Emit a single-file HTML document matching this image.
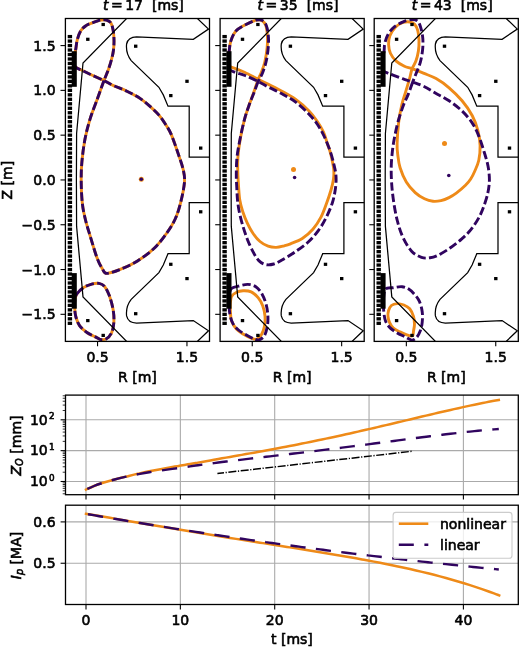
<!DOCTYPE html>
<html><head><meta charset="utf-8"><title>plot</title>
<style>html,body{margin:0;padding:0;background:#fff;overflow:hidden;width:520px;height:647px;}svg{display:block;}</style>
</head><body>
<svg width="520" height="647" viewBox="0 0 520 647" font-family="'DejaVu Sans', 'Liberation Sans', sans-serif">
<style>text{stroke:#000;stroke-width:0.6px;fill:#000;}</style>
<rect width="520" height="647" fill="#fff"/>
<defs>
<clipPath id="c0"><rect x="65.4" y="18.5" width="144.1" height="322.9"/></clipPath>
<clipPath id="c1"><rect x="220.1" y="18.5" width="144.1" height="322.9"/></clipPath>
<clipPath id="c2"><rect x="374.2" y="18.5" width="144.1" height="322.9"/></clipPath>
<clipPath id="cm"><rect x="65.5" y="395.1" width="452.8" height="99.6"/></clipPath>
<clipPath id="cb"><rect x="65.5" y="505.2" width="452.8" height="99.3"/></clipPath>
</defs>
<g clip-path="url(#c0)">
<path d="M104,80.6C102.18,85.43 99.87,91.97 97.5,98.5C95.13,105.03 91.9,112.95 89.8,119.8C87.7,126.65 86.22,132.6 84.9,139.6C83.58,146.6 82.52,154.8 81.9,161.8C81.28,168.8 81.12,174.58 81.2,181.6C81.28,188.62 81.68,197.5 82.4,203.9C83.12,210.3 84.22,214.68 85.5,220C86.78,225.32 88.17,229.45 90.1,235.8C92.03,242.15 95.02,252.53 97.1,258.1C99.18,263.67 100.98,266.65 102.6,269.2C104.22,271.75 103.77,273.4 106.8,273.4C109.83,273.4 115.68,271.28 120.8,269.2C125.92,267.12 131.93,264.38 137.5,260.9C143.07,257.42 149.32,252.95 154.2,248.3C159.08,243.65 163.3,237.88 166.8,233C170.3,228.12 172.88,224.12 175.2,219C177.52,213.88 179.17,208.33 180.7,202.3C182.23,196.27 183.93,188.05 184.4,182.8C184.87,177.55 184.48,175.5 183.5,170.8C182.52,166.1 180.57,160.72 178.5,154.6C176.43,148.48 173.35,139.28 171.1,134.1C168.85,128.92 166.98,126.62 165,123.5C163.02,120.38 161.52,118.1 159.2,115.4C156.88,112.7 154.23,110.1 151.1,107.3C147.97,104.5 144.43,101.28 140.4,98.6C136.37,95.92 131.38,93.37 126.9,91.2C122.42,89.03 117.32,87.37 113.5,85.6C109.68,83.83 107.92,82.5 104,80.6C100.08,78.7 93.83,76 90,74.2C86.17,72.4 83.5,71.08 81,69.8C78.5,68.52 76.13,68.47 75,66.5C73.87,64.53 74.07,60.92 74.2,58C74.33,55.08 75.28,52.07 75.8,49C76.32,45.93 76.45,42.68 77.3,39.6C78.15,36.52 79.45,32.83 80.9,30.5C82.35,28.17 84.32,26.8 86,25.6C87.68,24.4 89.17,24.05 91,23.3C92.83,22.55 95.25,21.65 97,21.1C98.75,20.55 99.92,20.17 101.5,20C103.08,19.83 104.95,19.63 106.5,20.1C108.05,20.57 109.7,21.15 110.8,22.8C111.9,24.45 112.57,27.2 113.1,30C113.63,32.8 113.93,36.27 114,39.6C114.07,42.93 113.92,46.68 113.5,50C113.08,53.32 112.35,56.25 111.5,59.5C110.65,62.75 109.65,65.98 108.4,69.5C107.15,73.02 105.82,75.77 104,80.6Z" fill="none" stroke="#ee8a18" stroke-width="2.9" stroke-linejoin="round"/>
<path d="M77.2,293.5C78.62,291.6 81.2,289.13 83.5,287.6C85.8,286.07 88.43,285 91,284.3C93.57,283.6 96.67,283.07 98.9,283.4C101.13,283.73 102.68,284.33 104.4,286.3C106.12,288.27 107.75,291.35 109.2,295.2C110.65,299.05 112.32,304.93 113.1,309.4C113.88,313.87 114.17,318.05 113.9,322C113.63,325.95 112.82,330.27 111.5,333.1C110.18,335.93 107.92,337.97 106,339C104.08,340.03 101.85,339.7 100,339.3C98.15,338.9 97.02,337.68 94.9,336.6C92.78,335.52 89.83,334.6 87.3,332.8C84.77,331 81.6,328.43 79.7,325.8C77.8,323.17 76.73,319.95 75.9,317C75.07,314.05 74.85,311.1 74.7,308.1C74.55,305.1 74.58,301.43 75,299C75.42,296.57 75.78,295.4 77.2,293.5Z" fill="none" stroke="#ee8a18" stroke-width="2.9" stroke-linejoin="round"/>
<path d="M104,80.6C102.18,85.43 99.87,91.97 97.5,98.5C95.13,105.03 91.9,112.95 89.8,119.8C87.7,126.65 86.22,132.6 84.9,139.6C83.58,146.6 82.52,154.8 81.9,161.8C81.28,168.8 81.12,174.58 81.2,181.6C81.28,188.62 81.68,197.5 82.4,203.9C83.12,210.3 84.22,214.68 85.5,220C86.78,225.32 88.17,229.45 90.1,235.8C92.03,242.15 95.02,252.53 97.1,258.1C99.18,263.67 100.98,266.65 102.6,269.2C104.22,271.75 103.77,273.4 106.8,273.4C109.83,273.4 115.68,271.28 120.8,269.2C125.92,267.12 131.93,264.38 137.5,260.9C143.07,257.42 149.32,252.95 154.2,248.3C159.08,243.65 163.3,237.88 166.8,233C170.3,228.12 172.88,224.12 175.2,219C177.52,213.88 179.17,208.33 180.7,202.3C182.23,196.27 183.93,188.05 184.4,182.8C184.87,177.55 184.48,175.5 183.5,170.8C182.52,166.1 180.57,160.72 178.5,154.6C176.43,148.48 173.35,139.28 171.1,134.1C168.85,128.92 166.98,126.62 165,123.5C163.02,120.38 161.52,118.1 159.2,115.4C156.88,112.7 154.23,110.1 151.1,107.3C147.97,104.5 144.43,101.28 140.4,98.6C136.37,95.92 131.38,93.37 126.9,91.2C122.42,89.03 117.32,87.37 113.5,85.6C109.68,83.83 107.92,82.5 104,80.6C100.08,78.7 93.83,76 90,74.2C86.17,72.4 83.5,71.08 81,69.8C78.5,68.52 76.13,68.47 75,66.5C73.87,64.53 74.07,60.92 74.2,58C74.33,55.08 75.28,52.07 75.8,49C76.32,45.93 76.45,42.68 77.3,39.6C78.15,36.52 79.45,32.83 80.9,30.5C82.35,28.17 84.32,26.8 86,25.6C87.68,24.4 89.17,24.05 91,23.3C92.83,22.55 95.25,21.65 97,21.1C98.75,20.55 99.92,20.17 101.5,20C103.08,19.83 104.95,19.63 106.5,20.1C108.05,20.57 109.7,21.15 110.8,22.8C111.9,24.45 112.57,27.2 113.1,30C113.63,32.8 113.93,36.27 114,39.6C114.07,42.93 113.92,46.68 113.5,50C113.08,53.32 112.35,56.25 111.5,59.5C110.65,62.75 109.65,65.98 108.4,69.5C107.15,73.02 105.82,75.77 104,80.6Z" fill="none" stroke="#30045f" stroke-width="2.9" stroke-dasharray="8.3 3.2"/>
<path d="M77.2,293.5C78.62,291.6 81.2,289.13 83.5,287.6C85.8,286.07 88.43,285 91,284.3C93.57,283.6 96.67,283.07 98.9,283.4C101.13,283.73 102.68,284.33 104.4,286.3C106.12,288.27 107.75,291.35 109.2,295.2C110.65,299.05 112.32,304.93 113.1,309.4C113.88,313.87 114.17,318.05 113.9,322C113.63,325.95 112.82,330.27 111.5,333.1C110.18,335.93 107.92,337.97 106,339C104.08,340.03 101.85,339.7 100,339.3C98.15,338.9 97.02,337.68 94.9,336.6C92.78,335.52 89.83,334.6 87.3,332.8C84.77,331 81.6,328.43 79.7,325.8C77.8,323.17 76.73,319.95 75.9,317C75.07,314.05 74.85,311.1 74.7,308.1C74.55,305.1 74.58,301.43 75,299C75.42,296.57 75.78,295.4 77.2,293.5Z" fill="none" stroke="#30045f" stroke-width="2.9" stroke-dasharray="8.3 3.2"/>
<circle cx="141.3" cy="179.2" r="2.5" fill="#ee8a18"/>
<circle cx="141.3" cy="179.2" r="1.8" fill="#30045f"/>
<g transform="translate(0,0)">
<path d="M131.5,13.5 L83,63 L76.6,133.5 L76.4,179.95 L76.6,226.4 L83,296.9 L131.5,346.4" fill="none" stroke="#000" stroke-width="1.25" stroke-linejoin="miter"/>
<path d="M195.4,16.6 L208.5,29.1 L193.3,39.3 L136.5,36.9 Q128.2,36.9 126.6,44.0 Q125.6,53.5 131.2,60.6 L158.9,87.3 L163.3,94.9 L168,106.2 L189.2,106.2 L189.2,157.2 L214,157.2 M214,202.7 L189.2,202.7 L189.2,253.7 L168,253.7 L163.3,265 L158.9,272.6 L131.2,299.3 Q125.6,306.4 126.6,315.9 Q128.2,323 136.5,323 L193.3,320.6 L208.5,330.8 L195.4,343.3" fill="none" stroke="#000" stroke-width="1.25"/>
<g fill="#000"><rect x="67.7" y="34.94" width="4.4" height="3.3"/><rect x="67.7" y="39.42" width="4.4" height="3.3"/><rect x="67.7" y="43.9" width="4.4" height="3.3"/><rect x="67.7" y="48.38" width="4.4" height="3.3"/><rect x="67.7" y="52.86" width="4.4" height="3.3"/><rect x="67.7" y="57.34" width="4.4" height="3.3"/><rect x="67.7" y="61.82" width="4.4" height="3.3"/><rect x="67.7" y="66.3" width="4.4" height="3.3"/><rect x="67.7" y="70.78" width="4.4" height="3.3"/><rect x="67.7" y="75.26" width="4.4" height="3.3"/><rect x="67.7" y="79.74" width="4.4" height="3.3"/><rect x="67.7" y="84.22" width="4.4" height="3.3"/><rect x="67.7" y="88.7" width="4.4" height="3.3"/><rect x="67.7" y="93.18" width="4.4" height="3.3"/><rect x="67.7" y="97.66" width="4.4" height="3.3"/><rect x="67.7" y="102.14" width="4.4" height="3.3"/><rect x="67.7" y="106.62" width="4.4" height="3.3"/><rect x="67.7" y="111.1" width="4.4" height="3.3"/><rect x="67.7" y="115.58" width="4.4" height="3.3"/><rect x="67.7" y="120.06" width="4.4" height="3.3"/><rect x="67.7" y="124.54" width="4.4" height="3.3"/><rect x="67.7" y="129.02" width="4.4" height="3.3"/><rect x="67.7" y="133.5" width="4.4" height="3.3"/><rect x="67.7" y="137.98" width="4.4" height="3.3"/><rect x="67.7" y="142.46" width="4.4" height="3.3"/><rect x="67.7" y="146.94" width="4.4" height="3.3"/><rect x="67.7" y="151.42" width="4.4" height="3.3"/><rect x="67.7" y="155.9" width="4.4" height="3.3"/><rect x="67.7" y="160.38" width="4.4" height="3.3"/><rect x="67.7" y="164.86" width="4.4" height="3.3"/><rect x="67.7" y="169.34" width="4.4" height="3.3"/><rect x="67.7" y="173.82" width="4.4" height="3.3"/><rect x="67.7" y="178.3" width="4.4" height="3.3"/><rect x="67.7" y="182.78" width="4.4" height="3.3"/><rect x="67.7" y="187.26" width="4.4" height="3.3"/><rect x="67.7" y="191.74" width="4.4" height="3.3"/><rect x="67.7" y="196.22" width="4.4" height="3.3"/><rect x="67.7" y="200.7" width="4.4" height="3.3"/><rect x="67.7" y="205.18" width="4.4" height="3.3"/><rect x="67.7" y="209.66" width="4.4" height="3.3"/><rect x="67.7" y="214.14" width="4.4" height="3.3"/><rect x="67.7" y="218.62" width="4.4" height="3.3"/><rect x="67.7" y="223.1" width="4.4" height="3.3"/><rect x="67.7" y="227.58" width="4.4" height="3.3"/><rect x="67.7" y="232.06" width="4.4" height="3.3"/><rect x="67.7" y="236.54" width="4.4" height="3.3"/><rect x="67.7" y="241.02" width="4.4" height="3.3"/><rect x="67.7" y="245.5" width="4.4" height="3.3"/><rect x="67.7" y="249.98" width="4.4" height="3.3"/><rect x="67.7" y="254.46" width="4.4" height="3.3"/><rect x="67.7" y="258.94" width="4.4" height="3.3"/><rect x="67.7" y="263.42" width="4.4" height="3.3"/><rect x="67.7" y="267.9" width="4.4" height="3.3"/><rect x="67.7" y="272.38" width="4.4" height="3.3"/><rect x="67.7" y="276.86" width="4.4" height="3.3"/><rect x="67.7" y="281.34" width="4.4" height="3.3"/><rect x="67.7" y="285.82" width="4.4" height="3.3"/><rect x="67.7" y="290.3" width="4.4" height="3.3"/><rect x="67.7" y="294.78" width="4.4" height="3.3"/><rect x="67.7" y="299.26" width="4.4" height="3.3"/><rect x="67.7" y="303.74" width="4.4" height="3.3"/><rect x="67.7" y="308.22" width="4.4" height="3.3"/><rect x="67.7" y="312.7" width="4.4" height="3.3"/><rect x="67.7" y="317.18" width="4.4" height="3.3"/><rect x="67.7" y="321.66" width="4.4" height="3.3"/></g>
<rect x="71.7" y="51.2" width="5.1" height="35.6" fill="#000"/>
<rect x="71.7" y="273.1" width="5.1" height="35.6" fill="#000"/>
<g fill="#000"><rect x="101.5" y="22.9" width="3.4" height="3.2"/><rect x="86.1" y="37.7" width="3.4" height="3.2"/><rect x="134" y="44.6" width="3.4" height="3.2"/><rect x="185.3" y="79.7" width="3.4" height="3.2"/><rect x="169.1" y="94" width="3.4" height="3.2"/><rect x="199" y="146.5" width="3.4" height="3.2"/><rect x="101.5" y="333.8" width="3.4" height="3.2"/><rect x="86.1" y="319" width="3.4" height="3.2"/><rect x="134" y="312.1" width="3.4" height="3.2"/><rect x="185.3" y="277" width="3.4" height="3.2"/><rect x="169.1" y="262.7" width="3.4" height="3.2"/><rect x="199" y="210.2" width="3.4" height="3.2"/></g>
</g>
</g>
<rect x="65.4" y="18.5" width="144.1" height="322.9" fill="none" stroke="#000" stroke-width="1.3"/>
<line x1="97.55" y1="341.4" x2="97.55" y2="346.3" stroke="#000" stroke-width="1.1"/>
<text x="97.55" y="362" text-anchor="middle" font-size="14">0.5</text>
<line x1="186.95" y1="341.4" x2="186.95" y2="346.3" stroke="#000" stroke-width="1.1"/>
<text x="186.95" y="362" text-anchor="middle" font-size="14">1.5</text>
<text x="137.45" y="381.8" text-anchor="middle" font-size="14">R [m]</text>
<line x1="60.5" y1="314.32" x2="65.4" y2="314.32" stroke="#000" stroke-width="1.1"/>
<text x="55.6" y="319.42" text-anchor="end" font-size="14">−1.5</text>
<line x1="60.5" y1="269.53" x2="65.4" y2="269.53" stroke="#000" stroke-width="1.1"/>
<text x="55.6" y="274.63" text-anchor="end" font-size="14">−1.0</text>
<line x1="60.5" y1="224.74" x2="65.4" y2="224.74" stroke="#000" stroke-width="1.1"/>
<text x="55.6" y="229.84" text-anchor="end" font-size="14">−0.5</text>
<line x1="60.5" y1="179.95" x2="65.4" y2="179.95" stroke="#000" stroke-width="1.1"/>
<text x="55.6" y="185.05" text-anchor="end" font-size="14">0.0</text>
<line x1="60.5" y1="135.16" x2="65.4" y2="135.16" stroke="#000" stroke-width="1.1"/>
<text x="55.6" y="140.26" text-anchor="end" font-size="14">0.5</text>
<line x1="60.5" y1="90.37" x2="65.4" y2="90.37" stroke="#000" stroke-width="1.1"/>
<text x="55.6" y="95.47" text-anchor="end" font-size="14">1.0</text>
<line x1="60.5" y1="45.58" x2="65.4" y2="45.58" stroke="#000" stroke-width="1.1"/>
<text x="55.6" y="50.68" text-anchor="end" font-size="14">1.5</text>
<g clip-path="url(#c1)">
<path d="M258.2,79.3C256.93,82.63 255.35,87.88 253.9,92C252.45,96.12 251.03,99.57 249.5,104C247.97,108.43 246.23,112.82 244.7,118.6C243.17,124.38 241.43,132.25 240.3,138.7C239.17,145.15 238.32,151.75 237.9,157.3C237.48,162.85 237.68,167.05 237.8,172C237.92,176.95 238.27,182.33 238.6,187C238.93,191.67 239.12,195.92 239.8,200C240.48,204.08 241.45,207.65 242.7,211.5C243.95,215.35 245.57,219.43 247.3,223.1C249.03,226.77 250.98,230.43 253.1,233.5C255.22,236.57 257.5,239.38 260,241.5C262.5,243.62 265.4,245.22 268.1,246.2C270.8,247.18 273.52,247.47 276.2,247.4C278.88,247.33 281.82,246.4 284.2,245.8C286.58,245.2 287.48,245.02 290.5,243.8C293.52,242.58 298.53,240.97 302.3,238.5C306.07,236.03 309.97,232.6 313.1,229C316.23,225.4 318.87,221.15 321.1,216.9C323.33,212.65 324.85,207.98 326.5,203.5C328.15,199.02 329.83,194.08 331,190C332.17,185.92 333.03,182.33 333.5,179C333.97,175.67 333.97,172.83 333.8,170C333.63,167.17 333.05,164.83 332.5,162C331.95,159.17 331.33,156 330.5,153C329.67,150 328.67,147.5 327.5,144C326.33,140.5 325.25,135.83 323.5,132C321.75,128.17 319.45,124.55 317,121C314.55,117.45 312.4,114.33 308.8,110.7C305.2,107.07 299.88,102.45 295.4,99.2C290.92,95.95 286.38,93.67 281.9,91.2C277.42,88.73 272.45,86.38 268.5,84.4C264.55,82.42 262.12,81.28 258.2,79.3C254.28,77.32 248.7,74.25 245,72.5C241.3,70.75 238.58,69.88 236,68.8C233.42,67.72 230.78,67.47 229.5,66C228.22,64.53 228.35,62.47 228.3,60C228.25,57.53 228.78,54.35 229.2,51.2C229.62,48.05 229.68,44.47 230.8,41.1C231.92,37.73 233.37,33.77 235.9,31C238.43,28.23 242.63,26.3 246,24.5C249.37,22.7 253.47,20.88 256.1,20.2C258.73,19.52 260.18,19.52 261.8,20.4C263.42,21.28 264.87,22.9 265.8,25.5C266.73,28.1 267.18,32.25 267.4,36C267.62,39.75 267.53,43.67 267.1,48C266.67,52.33 265.73,58 264.8,62C263.87,66 262.6,69.12 261.5,72C260.4,74.88 259.47,75.97 258.2,79.3Z" fill="none" stroke="#ee8a18" stroke-width="2.9" stroke-linejoin="round"/>
<path d="M231.5,296.5C232.48,294.58 234.27,293.45 236.2,292.5C238.13,291.55 240.6,290.9 243.1,290.8C245.6,290.7 248.7,290.75 251.2,291.9C253.7,293.05 256.18,295.38 258.1,297.7C260.02,300.02 261.55,302.72 262.7,305.8C263.85,308.88 264.72,312.75 265,316.2C265.28,319.65 264.98,323.43 264.4,326.5C263.82,329.57 262.75,332.48 261.5,334.6C260.25,336.72 258.62,338.62 256.9,339.2C255.18,339.78 253.5,338.97 251.2,338.1C248.9,337.23 245.6,335.55 243.1,334C240.6,332.45 238.13,331 236.2,328.8C234.27,326.6 232.45,323.48 231.5,320.8C230.55,318.12 230.7,315.5 230.5,312.7C230.3,309.9 230.13,306.7 230.3,304C230.47,301.3 230.52,298.42 231.5,296.5Z" fill="none" stroke="#ee8a18" stroke-width="2.9" stroke-linejoin="round"/>
<path d="M258.2,81.5C256.77,84.83 255.35,89.25 253.9,93C252.45,96.75 251.03,99.73 249.5,104C247.97,108.27 246.27,112.82 244.7,118.6C243.13,124.38 241.38,132.25 240.1,138.7C238.82,145.15 237.63,151.25 237,157.3C236.37,163.35 236.33,169.88 236.3,175C236.27,180.12 236.6,183.83 236.8,188C237,192.17 237.1,196.08 237.5,200C237.9,203.92 238.33,207.27 239.2,211.5C240.07,215.73 241.35,220.78 242.7,225.4C244.05,230.02 245.57,234.78 247.3,239.2C249.03,243.62 251.18,248.33 253.1,251.9C255.02,255.47 256.68,258.48 258.8,260.6C260.92,262.72 263.3,264.03 265.8,264.6C268.3,265.17 271.1,264.77 273.8,264C276.5,263.23 278.6,261.92 282,260C285.4,258.08 289.92,255.42 294.2,252.5C298.48,249.58 303.65,246.18 307.7,242.5C311.75,238.82 315.37,234.67 318.5,230.4C321.63,226.13 324.15,221.63 326.5,216.9C328.85,212.17 331.1,206.82 332.6,202C334.1,197.18 334.93,192.33 335.5,188C336.07,183.67 336.25,179.87 336,176C335.75,172.13 334.98,168.98 334,164.8C333.02,160.62 331.77,155.7 330.1,150.9C328.43,146.1 326.1,140.4 324,136C321.9,131.6 320.03,128.17 317.5,124.5C314.97,120.83 312.48,117.77 308.8,114C305.12,110.23 299.88,105.27 295.4,101.9C290.92,98.53 286.38,96.27 281.9,93.8C277.42,91.33 272.45,89.15 268.5,87.1C264.55,85.05 262.12,83.43 258.2,81.5C254.28,79.57 248.7,77 245,75.5C241.3,74 238.58,73.5 236,72.5C233.42,71.5 230.78,71.25 229.5,69.5C228.22,67.75 228.35,65.05 228.3,62C228.25,58.95 228.78,54.68 229.2,51.2C229.62,47.72 229.68,44.47 230.8,41.1C231.92,37.73 233.37,33.77 235.9,31C238.43,28.23 242.63,26.3 246,24.5C249.37,22.7 253.47,20.92 256.1,20.2C258.73,19.48 260.12,19.37 261.8,20.2C263.48,21.03 265.12,22.68 266.2,25.2C267.28,27.72 267.95,31.7 268.3,35.3C268.65,38.9 268.65,42.47 268.3,46.8C267.95,51.13 267.17,56.93 266.2,61.3C265.23,65.67 263.83,69.63 262.5,73C261.17,76.37 259.63,78.17 258.2,81.5Z" fill="none" stroke="#30045f" stroke-width="2.9" stroke-dasharray="8.3 3.2"/>
<path d="M231.5,288.5C233,287.03 235.8,286.88 238.5,286.2C241.2,285.52 244.82,284.32 247.7,284.4C250.58,284.48 253.4,285.07 255.8,286.7C258.2,288.33 260.37,291.22 262.1,294.2C263.83,297.18 265.23,300.93 266.2,304.6C267.17,308.27 267.72,312.55 267.9,316.2C268.08,319.85 267.88,323.23 267.3,326.5C266.72,329.77 265.75,333.58 264.4,335.8C263.05,338.02 260.83,339.23 259.2,339.8C257.57,340.37 256.52,339.87 254.6,339.2C252.68,338.53 250.38,337.33 247.7,335.8C245.02,334.27 241,332.12 238.5,330C236,327.88 234.15,325.8 232.7,323.1C231.25,320.4 230.38,316.82 229.8,313.8C229.22,310.78 229.25,308.13 229.2,305C229.15,301.87 229.12,297.75 229.5,295C229.88,292.25 230,289.97 231.5,288.5Z" fill="none" stroke="#30045f" stroke-width="2.9" stroke-dasharray="8.3 3.2"/>
<circle cx="293.5" cy="169.6" r="2.5" fill="#ee8a18"/>
<circle cx="294.6" cy="177.5" r="1.8" fill="#30045f"/>
<g transform="translate(154.7,0)">
<path d="M131.5,13.5 L83,63 L76.6,133.5 L76.4,179.95 L76.6,226.4 L83,296.9 L131.5,346.4" fill="none" stroke="#000" stroke-width="1.25" stroke-linejoin="miter"/>
<path d="M195.4,16.6 L208.5,29.1 L193.3,39.3 L136.5,36.9 Q128.2,36.9 126.6,44.0 Q125.6,53.5 131.2,60.6 L158.9,87.3 L163.3,94.9 L168,106.2 L189.2,106.2 L189.2,157.2 L214,157.2 M214,202.7 L189.2,202.7 L189.2,253.7 L168,253.7 L163.3,265 L158.9,272.6 L131.2,299.3 Q125.6,306.4 126.6,315.9 Q128.2,323 136.5,323 L193.3,320.6 L208.5,330.8 L195.4,343.3" fill="none" stroke="#000" stroke-width="1.25"/>
<g fill="#000"><rect x="67.7" y="34.94" width="4.4" height="3.3"/><rect x="67.7" y="39.42" width="4.4" height="3.3"/><rect x="67.7" y="43.9" width="4.4" height="3.3"/><rect x="67.7" y="48.38" width="4.4" height="3.3"/><rect x="67.7" y="52.86" width="4.4" height="3.3"/><rect x="67.7" y="57.34" width="4.4" height="3.3"/><rect x="67.7" y="61.82" width="4.4" height="3.3"/><rect x="67.7" y="66.3" width="4.4" height="3.3"/><rect x="67.7" y="70.78" width="4.4" height="3.3"/><rect x="67.7" y="75.26" width="4.4" height="3.3"/><rect x="67.7" y="79.74" width="4.4" height="3.3"/><rect x="67.7" y="84.22" width="4.4" height="3.3"/><rect x="67.7" y="88.7" width="4.4" height="3.3"/><rect x="67.7" y="93.18" width="4.4" height="3.3"/><rect x="67.7" y="97.66" width="4.4" height="3.3"/><rect x="67.7" y="102.14" width="4.4" height="3.3"/><rect x="67.7" y="106.62" width="4.4" height="3.3"/><rect x="67.7" y="111.1" width="4.4" height="3.3"/><rect x="67.7" y="115.58" width="4.4" height="3.3"/><rect x="67.7" y="120.06" width="4.4" height="3.3"/><rect x="67.7" y="124.54" width="4.4" height="3.3"/><rect x="67.7" y="129.02" width="4.4" height="3.3"/><rect x="67.7" y="133.5" width="4.4" height="3.3"/><rect x="67.7" y="137.98" width="4.4" height="3.3"/><rect x="67.7" y="142.46" width="4.4" height="3.3"/><rect x="67.7" y="146.94" width="4.4" height="3.3"/><rect x="67.7" y="151.42" width="4.4" height="3.3"/><rect x="67.7" y="155.9" width="4.4" height="3.3"/><rect x="67.7" y="160.38" width="4.4" height="3.3"/><rect x="67.7" y="164.86" width="4.4" height="3.3"/><rect x="67.7" y="169.34" width="4.4" height="3.3"/><rect x="67.7" y="173.82" width="4.4" height="3.3"/><rect x="67.7" y="178.3" width="4.4" height="3.3"/><rect x="67.7" y="182.78" width="4.4" height="3.3"/><rect x="67.7" y="187.26" width="4.4" height="3.3"/><rect x="67.7" y="191.74" width="4.4" height="3.3"/><rect x="67.7" y="196.22" width="4.4" height="3.3"/><rect x="67.7" y="200.7" width="4.4" height="3.3"/><rect x="67.7" y="205.18" width="4.4" height="3.3"/><rect x="67.7" y="209.66" width="4.4" height="3.3"/><rect x="67.7" y="214.14" width="4.4" height="3.3"/><rect x="67.7" y="218.62" width="4.4" height="3.3"/><rect x="67.7" y="223.1" width="4.4" height="3.3"/><rect x="67.7" y="227.58" width="4.4" height="3.3"/><rect x="67.7" y="232.06" width="4.4" height="3.3"/><rect x="67.7" y="236.54" width="4.4" height="3.3"/><rect x="67.7" y="241.02" width="4.4" height="3.3"/><rect x="67.7" y="245.5" width="4.4" height="3.3"/><rect x="67.7" y="249.98" width="4.4" height="3.3"/><rect x="67.7" y="254.46" width="4.4" height="3.3"/><rect x="67.7" y="258.94" width="4.4" height="3.3"/><rect x="67.7" y="263.42" width="4.4" height="3.3"/><rect x="67.7" y="267.9" width="4.4" height="3.3"/><rect x="67.7" y="272.38" width="4.4" height="3.3"/><rect x="67.7" y="276.86" width="4.4" height="3.3"/><rect x="67.7" y="281.34" width="4.4" height="3.3"/><rect x="67.7" y="285.82" width="4.4" height="3.3"/><rect x="67.7" y="290.3" width="4.4" height="3.3"/><rect x="67.7" y="294.78" width="4.4" height="3.3"/><rect x="67.7" y="299.26" width="4.4" height="3.3"/><rect x="67.7" y="303.74" width="4.4" height="3.3"/><rect x="67.7" y="308.22" width="4.4" height="3.3"/><rect x="67.7" y="312.7" width="4.4" height="3.3"/><rect x="67.7" y="317.18" width="4.4" height="3.3"/><rect x="67.7" y="321.66" width="4.4" height="3.3"/></g>
<rect x="71.7" y="51.2" width="5.1" height="35.6" fill="#000"/>
<rect x="71.7" y="273.1" width="5.1" height="35.6" fill="#000"/>
<g fill="#000"><rect x="101.5" y="22.9" width="3.4" height="3.2"/><rect x="86.1" y="37.7" width="3.4" height="3.2"/><rect x="134" y="44.6" width="3.4" height="3.2"/><rect x="185.3" y="79.7" width="3.4" height="3.2"/><rect x="169.1" y="94" width="3.4" height="3.2"/><rect x="199" y="146.5" width="3.4" height="3.2"/><rect x="101.5" y="333.8" width="3.4" height="3.2"/><rect x="86.1" y="319" width="3.4" height="3.2"/><rect x="134" y="312.1" width="3.4" height="3.2"/><rect x="185.3" y="277" width="3.4" height="3.2"/><rect x="169.1" y="262.7" width="3.4" height="3.2"/><rect x="199" y="210.2" width="3.4" height="3.2"/></g>
</g>
</g>
<rect x="220.1" y="18.5" width="144.1" height="322.9" fill="none" stroke="#000" stroke-width="1.3"/>
<line x1="252.25" y1="341.4" x2="252.25" y2="346.3" stroke="#000" stroke-width="1.1"/>
<text x="252.25" y="362" text-anchor="middle" font-size="14">0.5</text>
<line x1="341.65" y1="341.4" x2="341.65" y2="346.3" stroke="#000" stroke-width="1.1"/>
<text x="341.65" y="362" text-anchor="middle" font-size="14">1.5</text>
<text x="292.15" y="381.8" text-anchor="middle" font-size="14">R [m]</text>
<line x1="215.2" y1="314.32" x2="220.1" y2="314.32" stroke="#000" stroke-width="1.1"/>
<line x1="215.2" y1="269.53" x2="220.1" y2="269.53" stroke="#000" stroke-width="1.1"/>
<line x1="215.2" y1="224.74" x2="220.1" y2="224.74" stroke="#000" stroke-width="1.1"/>
<line x1="215.2" y1="179.95" x2="220.1" y2="179.95" stroke="#000" stroke-width="1.1"/>
<line x1="215.2" y1="135.16" x2="220.1" y2="135.16" stroke="#000" stroke-width="1.1"/>
<line x1="215.2" y1="90.37" x2="220.1" y2="90.37" stroke="#000" stroke-width="1.1"/>
<line x1="215.2" y1="45.58" x2="220.1" y2="45.58" stroke="#000" stroke-width="1.1"/>
<g clip-path="url(#c2)">
<path d="M412.1,68.7C411.03,71.67 410.57,75.08 409.5,78.9C408.43,82.72 406.98,87.28 405.7,91.6C404.42,95.92 402.97,99.73 401.8,104.8C400.63,109.87 399.48,115.52 398.7,122C397.92,128.48 397.25,138.2 397.1,143.7C396.95,149.2 397.3,150.98 397.8,155C398.3,159.02 398.68,163.3 400.1,167.8C401.52,172.3 403.78,177.87 406.3,182C408.82,186.13 412.17,189.8 415.2,192.6C418.23,195.4 421.53,197.35 424.5,198.8C427.47,200.25 430.25,201 433,201.3C435.75,201.6 438.33,201.22 441,200.6C443.67,199.98 446.45,198.85 449,197.6C451.55,196.35 453.55,195.15 456.3,193.1C459.05,191.05 463.1,187.65 465.5,185.3C467.9,182.95 469.18,181.3 470.7,179C472.22,176.7 473.25,174.63 474.6,171.5C475.95,168.37 477.88,164.55 478.8,160.2C479.72,155.85 480.25,150.35 480.1,145.4C479.95,140.45 479.2,135.45 477.9,130.5C476.6,125.55 474.93,120.65 472.3,115.7C469.67,110.75 465.97,105.45 462.1,100.8C458.23,96.15 453.43,91.5 449.1,87.8C444.77,84.1 440.28,81 436.1,78.6C431.92,76.2 428,75.05 424,73.4C420,71.75 415.37,69.9 412.1,68.7C408.83,67.5 407.05,67.47 404.4,66.2C401.75,64.93 398.52,63.22 396.2,61.1C393.88,58.98 391.77,56.25 390.5,53.5C389.23,50.75 388.7,47.55 388.6,44.6C388.5,41.65 388.73,38.75 389.9,35.8C391.07,32.85 393.42,29.12 395.6,26.9C397.78,24.68 400.6,23.32 403,22.5C405.4,21.68 408.07,21.7 410,22C411.93,22.3 413.3,22.85 414.6,24.3C415.9,25.75 417.07,27.95 417.8,30.7C418.53,33.45 418.9,37.42 419,40.8C419.1,44.18 418.92,47.62 418.4,51C417.88,54.38 416.95,58.15 415.9,61.1C414.85,64.05 413.17,65.73 412.1,68.7Z" fill="none" stroke="#ee8a18" stroke-width="2.9" stroke-linejoin="round"/>
<path d="M388.5,310.8C389.07,308.97 389.95,306.7 391.4,305.5C392.85,304.3 395.12,303.68 397.2,303.6C399.28,303.52 401.82,304.13 403.9,305C405.98,305.87 408.1,306.88 409.7,308.8C411.3,310.72 412.7,313.93 413.5,316.5C414.3,319.07 414.5,321.78 414.5,324.2C414.5,326.62 413.83,329.07 413.5,331C413.17,332.93 413.62,335.17 412.5,335.8C411.38,336.43 408.88,335.45 406.8,334.8C404.72,334.15 402.25,333.02 400,331.9C397.75,330.78 395.05,329.7 393.3,328.1C391.55,326.5 390.38,324.23 389.5,322.3C388.62,320.37 388.17,318.42 388,316.5C387.83,314.58 387.93,312.63 388.5,310.8Z" fill="none" stroke="#ee8a18" stroke-width="2.9" stroke-linejoin="round"/>
<path d="M412.7,82.1C411.33,85.7 409.82,90.32 408.3,94.1C406.78,97.88 405.3,100.23 403.6,104.8C401.9,109.37 399.63,115.95 398.1,121.5C396.57,127.05 395.37,133.02 394.4,138.1C393.43,143.18 392.83,147.05 392.3,152C391.77,156.95 391.28,162.22 391.2,167.8C391.12,173.38 391.35,179.58 391.8,185.5C392.25,191.42 392.97,197.38 393.9,203.3C394.83,209.22 395.92,215.38 397.4,221C398.88,226.62 400.43,231.97 402.8,237C405.17,242.03 408.48,247.82 411.6,251.2C414.72,254.58 418.43,256.2 421.5,257.3C424.57,258.4 427.27,258.13 430,257.8C432.73,257.47 434.62,256.88 437.9,255.3C441.18,253.72 445.77,251 449.7,248.3C453.63,245.6 458,242.17 461.5,239.1C465,236.03 467.85,233.4 470.7,229.9C473.55,226.4 476.42,222.03 478.6,218.1C480.78,214.17 482.27,210.47 483.8,206.3C485.33,202.13 486.87,197.48 487.8,193.1C488.73,188.72 489.37,184.52 489.4,180C489.43,175.48 488.9,170.75 488,166C487.1,161.25 485.53,156.48 484,151.5C482.47,146.52 480.75,140.83 478.8,136.1C476.85,131.37 475.08,127.28 472.3,123.1C469.52,118.92 465.97,114.72 462.1,111C458.23,107.28 453.43,103.73 449.1,100.8C444.77,97.87 440.28,95.78 436.1,93.4C431.92,91.02 427.9,88.38 424,86.5C420.1,84.62 416.17,83.37 412.7,82.1C409.23,80.83 406.48,80.07 403.2,78.9C399.92,77.73 395.53,76.05 393,75.1C390.47,74.15 389.58,73.97 388,73.2C386.42,72.43 384.37,72.37 383.5,70.5C382.63,68.63 382.7,65.25 382.8,62C382.9,58.75 383.77,54.1 384.1,51C384.43,47.9 384.15,46.15 384.8,43.4C385.45,40.65 386.42,37.25 388,34.5C389.58,31.75 391.77,29.02 394.3,26.9C396.83,24.78 400.23,23.03 403.2,21.8C406.17,20.57 409.67,19.6 412.1,19.5C414.53,19.4 416.33,19.77 417.8,21.2C419.27,22.63 420.07,25.25 420.9,28.1C421.73,30.95 422.52,34.7 422.8,38.3C423.08,41.9 423.02,45.68 422.6,49.7C422.18,53.72 421.32,58.6 420.3,62.4C419.28,66.2 417.77,69.22 416.5,72.5C415.23,75.78 414.07,78.5 412.7,82.1Z" fill="none" stroke="#30045f" stroke-width="2.9" stroke-dasharray="8.3 3.2"/>
<path d="M385.6,289.1C387.23,287.22 390.57,288.1 393.3,287.7C396.03,287.3 399.43,286.47 402,286.7C404.57,286.93 406.62,287.82 408.7,289.1C410.78,290.38 412.73,292.38 414.5,294.4C416.27,296.42 418.02,298.32 419.3,301.2C420.58,304.08 421.72,308.18 422.2,311.7C422.68,315.22 422.53,319.08 422.2,322.3C421.87,325.52 421.17,328.43 420.2,331C419.23,333.57 417.83,336.18 416.4,337.7C414.97,339.22 413.53,340.27 411.6,340.1C409.67,339.93 407.2,337.9 404.8,336.7C402.4,335.5 399.6,334.33 397.2,332.9C394.8,331.47 392.33,330.03 390.4,328.1C388.47,326.17 386.72,324.18 385.6,321.3C384.48,318.42 384.05,314.52 383.7,310.8C383.35,307.08 383.18,302.62 383.5,299C383.82,295.38 383.97,290.98 385.6,289.1Z" fill="none" stroke="#30045f" stroke-width="2.9" stroke-dasharray="8.3 3.2"/>
<circle cx="444.5" cy="143.5" r="2.5" fill="#ee8a18"/>
<circle cx="448.8" cy="175.5" r="1.8" fill="#30045f"/>
<g transform="translate(308.8,0)">
<path d="M131.5,13.5 L83,63 L76.6,133.5 L76.4,179.95 L76.6,226.4 L83,296.9 L131.5,346.4" fill="none" stroke="#000" stroke-width="1.25" stroke-linejoin="miter"/>
<path d="M195.4,16.6 L208.5,29.1 L193.3,39.3 L136.5,36.9 Q128.2,36.9 126.6,44.0 Q125.6,53.5 131.2,60.6 L158.9,87.3 L163.3,94.9 L168,106.2 L189.2,106.2 L189.2,157.2 L214,157.2 M214,202.7 L189.2,202.7 L189.2,253.7 L168,253.7 L163.3,265 L158.9,272.6 L131.2,299.3 Q125.6,306.4 126.6,315.9 Q128.2,323 136.5,323 L193.3,320.6 L208.5,330.8 L195.4,343.3" fill="none" stroke="#000" stroke-width="1.25"/>
<g fill="#000"><rect x="67.7" y="34.94" width="4.4" height="3.3"/><rect x="67.7" y="39.42" width="4.4" height="3.3"/><rect x="67.7" y="43.9" width="4.4" height="3.3"/><rect x="67.7" y="48.38" width="4.4" height="3.3"/><rect x="67.7" y="52.86" width="4.4" height="3.3"/><rect x="67.7" y="57.34" width="4.4" height="3.3"/><rect x="67.7" y="61.82" width="4.4" height="3.3"/><rect x="67.7" y="66.3" width="4.4" height="3.3"/><rect x="67.7" y="70.78" width="4.4" height="3.3"/><rect x="67.7" y="75.26" width="4.4" height="3.3"/><rect x="67.7" y="79.74" width="4.4" height="3.3"/><rect x="67.7" y="84.22" width="4.4" height="3.3"/><rect x="67.7" y="88.7" width="4.4" height="3.3"/><rect x="67.7" y="93.18" width="4.4" height="3.3"/><rect x="67.7" y="97.66" width="4.4" height="3.3"/><rect x="67.7" y="102.14" width="4.4" height="3.3"/><rect x="67.7" y="106.62" width="4.4" height="3.3"/><rect x="67.7" y="111.1" width="4.4" height="3.3"/><rect x="67.7" y="115.58" width="4.4" height="3.3"/><rect x="67.7" y="120.06" width="4.4" height="3.3"/><rect x="67.7" y="124.54" width="4.4" height="3.3"/><rect x="67.7" y="129.02" width="4.4" height="3.3"/><rect x="67.7" y="133.5" width="4.4" height="3.3"/><rect x="67.7" y="137.98" width="4.4" height="3.3"/><rect x="67.7" y="142.46" width="4.4" height="3.3"/><rect x="67.7" y="146.94" width="4.4" height="3.3"/><rect x="67.7" y="151.42" width="4.4" height="3.3"/><rect x="67.7" y="155.9" width="4.4" height="3.3"/><rect x="67.7" y="160.38" width="4.4" height="3.3"/><rect x="67.7" y="164.86" width="4.4" height="3.3"/><rect x="67.7" y="169.34" width="4.4" height="3.3"/><rect x="67.7" y="173.82" width="4.4" height="3.3"/><rect x="67.7" y="178.3" width="4.4" height="3.3"/><rect x="67.7" y="182.78" width="4.4" height="3.3"/><rect x="67.7" y="187.26" width="4.4" height="3.3"/><rect x="67.7" y="191.74" width="4.4" height="3.3"/><rect x="67.7" y="196.22" width="4.4" height="3.3"/><rect x="67.7" y="200.7" width="4.4" height="3.3"/><rect x="67.7" y="205.18" width="4.4" height="3.3"/><rect x="67.7" y="209.66" width="4.4" height="3.3"/><rect x="67.7" y="214.14" width="4.4" height="3.3"/><rect x="67.7" y="218.62" width="4.4" height="3.3"/><rect x="67.7" y="223.1" width="4.4" height="3.3"/><rect x="67.7" y="227.58" width="4.4" height="3.3"/><rect x="67.7" y="232.06" width="4.4" height="3.3"/><rect x="67.7" y="236.54" width="4.4" height="3.3"/><rect x="67.7" y="241.02" width="4.4" height="3.3"/><rect x="67.7" y="245.5" width="4.4" height="3.3"/><rect x="67.7" y="249.98" width="4.4" height="3.3"/><rect x="67.7" y="254.46" width="4.4" height="3.3"/><rect x="67.7" y="258.94" width="4.4" height="3.3"/><rect x="67.7" y="263.42" width="4.4" height="3.3"/><rect x="67.7" y="267.9" width="4.4" height="3.3"/><rect x="67.7" y="272.38" width="4.4" height="3.3"/><rect x="67.7" y="276.86" width="4.4" height="3.3"/><rect x="67.7" y="281.34" width="4.4" height="3.3"/><rect x="67.7" y="285.82" width="4.4" height="3.3"/><rect x="67.7" y="290.3" width="4.4" height="3.3"/><rect x="67.7" y="294.78" width="4.4" height="3.3"/><rect x="67.7" y="299.26" width="4.4" height="3.3"/><rect x="67.7" y="303.74" width="4.4" height="3.3"/><rect x="67.7" y="308.22" width="4.4" height="3.3"/><rect x="67.7" y="312.7" width="4.4" height="3.3"/><rect x="67.7" y="317.18" width="4.4" height="3.3"/><rect x="67.7" y="321.66" width="4.4" height="3.3"/></g>
<rect x="71.7" y="51.2" width="5.1" height="35.6" fill="#000"/>
<rect x="71.7" y="273.1" width="5.1" height="35.6" fill="#000"/>
<g fill="#000"><rect x="101.5" y="22.9" width="3.4" height="3.2"/><rect x="86.1" y="37.7" width="3.4" height="3.2"/><rect x="134" y="44.6" width="3.4" height="3.2"/><rect x="185.3" y="79.7" width="3.4" height="3.2"/><rect x="169.1" y="94" width="3.4" height="3.2"/><rect x="199" y="146.5" width="3.4" height="3.2"/><rect x="101.5" y="333.8" width="3.4" height="3.2"/><rect x="86.1" y="319" width="3.4" height="3.2"/><rect x="134" y="312.1" width="3.4" height="3.2"/><rect x="185.3" y="277" width="3.4" height="3.2"/><rect x="169.1" y="262.7" width="3.4" height="3.2"/><rect x="199" y="210.2" width="3.4" height="3.2"/></g>
</g>
</g>
<rect x="374.2" y="18.5" width="144.1" height="322.9" fill="none" stroke="#000" stroke-width="1.3"/>
<line x1="406.35" y1="341.4" x2="406.35" y2="346.3" stroke="#000" stroke-width="1.1"/>
<text x="406.35" y="362" text-anchor="middle" font-size="14">0.5</text>
<line x1="495.75" y1="341.4" x2="495.75" y2="346.3" stroke="#000" stroke-width="1.1"/>
<text x="495.75" y="362" text-anchor="middle" font-size="14">1.5</text>
<text x="446.25" y="381.8" text-anchor="middle" font-size="14">R [m]</text>
<line x1="369.3" y1="314.32" x2="374.2" y2="314.32" stroke="#000" stroke-width="1.1"/>
<line x1="369.3" y1="269.53" x2="374.2" y2="269.53" stroke="#000" stroke-width="1.1"/>
<line x1="369.3" y1="224.74" x2="374.2" y2="224.74" stroke="#000" stroke-width="1.1"/>
<line x1="369.3" y1="179.95" x2="374.2" y2="179.95" stroke="#000" stroke-width="1.1"/>
<line x1="369.3" y1="135.16" x2="374.2" y2="135.16" stroke="#000" stroke-width="1.1"/>
<line x1="369.3" y1="90.37" x2="374.2" y2="90.37" stroke="#000" stroke-width="1.1"/>
<line x1="369.3" y1="45.58" x2="374.2" y2="45.58" stroke="#000" stroke-width="1.1"/>
<text x="102.9" y="9.6" font-size="14"><tspan font-style="italic">t</tspan><tspan dx="2.5">=</tspan><tspan dx="2.5">17</tspan><tspan dx="9">[ms]</tspan></text>
<text x="257.6" y="9.6" font-size="14"><tspan font-style="italic">t</tspan><tspan dx="2.5">=</tspan><tspan dx="2.5">35</tspan><tspan dx="9">[ms]</tspan></text>
<text x="411.7" y="9.6" font-size="14"><tspan font-style="italic">t</tspan><tspan dx="2.5">=</tspan><tspan dx="2.5">43</tspan><tspan dx="9">[ms]</tspan></text>
<text transform="translate(12,180.2) rotate(-90)" text-anchor="middle" font-size="14">Z [m]</text>
<line x1="86" y1="395.1" x2="86" y2="494.7" stroke="#aaaaaa" stroke-width="1.1"/>
<line x1="180.35" y1="395.1" x2="180.35" y2="494.7" stroke="#aaaaaa" stroke-width="1.1"/>
<line x1="274.7" y1="395.1" x2="274.7" y2="494.7" stroke="#aaaaaa" stroke-width="1.1"/>
<line x1="369.05" y1="395.1" x2="369.05" y2="494.7" stroke="#aaaaaa" stroke-width="1.1"/>
<line x1="463.4" y1="395.1" x2="463.4" y2="494.7" stroke="#aaaaaa" stroke-width="1.1"/>
<line x1="86" y1="505.2" x2="86" y2="604.5" stroke="#aaaaaa" stroke-width="1.1"/>
<line x1="180.35" y1="505.2" x2="180.35" y2="604.5" stroke="#aaaaaa" stroke-width="1.1"/>
<line x1="274.7" y1="505.2" x2="274.7" y2="604.5" stroke="#aaaaaa" stroke-width="1.1"/>
<line x1="369.05" y1="505.2" x2="369.05" y2="604.5" stroke="#aaaaaa" stroke-width="1.1"/>
<line x1="463.4" y1="505.2" x2="463.4" y2="604.5" stroke="#aaaaaa" stroke-width="1.1"/>
<line x1="65.5" y1="481.5" x2="518.3" y2="481.5" stroke="#aaaaaa" stroke-width="1.1"/>
<line x1="65.5" y1="450.65" x2="518.3" y2="450.65" stroke="#aaaaaa" stroke-width="1.1"/>
<line x1="65.5" y1="419.8" x2="518.3" y2="419.8" stroke="#aaaaaa" stroke-width="1.1"/>
<line x1="65.5" y1="563.25" x2="518.3" y2="563.25" stroke="#aaaaaa" stroke-width="1.1"/>
<line x1="65.5" y1="521.9" x2="518.3" y2="521.9" stroke="#aaaaaa" stroke-width="1.1"/>
<g clip-path="url(#cm)">
<path d="M86,489.6C87.33,489 91.15,487.13 94,486C96.85,484.87 99.67,483.88 103.1,482.8C106.53,481.72 110.75,480.53 114.6,479.5C118.45,478.47 122.35,477.55 126.2,476.6C130.05,475.65 133.87,474.68 137.7,473.8C141.53,472.92 143.43,472.43 149.2,471.3C154.97,470.17 165.5,468.2 172.3,467C179.1,465.8 185.72,464.81 190,464.09C194.28,463.36 195.33,463.11 198,462.62C200.67,462.14 203.33,461.66 206,461.18C208.67,460.7 211.33,460.23 214,459.76C216.67,459.28 219.33,458.81 222,458.34C224.67,457.87 227.33,457.4 230,456.93C232.67,456.46 235.33,455.99 238,455.51C240.67,455.04 243.33,454.57 246,454.09C248.67,453.61 251.33,453.13 254,452.65C256.67,452.17 259.33,451.69 262,451.2C264.67,450.71 267.33,450.22 270,449.73C272.67,449.23 275.33,448.73 278,448.23C280.67,447.73 283.33,447.22 286,446.71C288.67,446.2 291.33,445.68 294,445.16C296.67,444.63 299.33,444.11 302,443.57C304.67,443.04 307.33,442.5 310,441.96C312.67,441.42 315.33,440.87 318,440.32C320.67,439.76 323.33,439.2 326,438.64C328.67,438.08 331.33,437.51 334,436.93C336.67,436.36 339.33,435.77 342,435.19C344.67,434.6 347.33,434.01 350,433.42C352.67,432.82 355.33,432.22 358,431.62C360.67,431.02 363.33,430.41 366,429.8C368.67,429.18 371.33,428.57 374,427.95C376.67,427.33 379.33,426.71 382,426.08C384.67,425.45 387.33,424.83 390,424.2C392.67,423.57 395.33,422.93 398,422.3C400.67,421.67 403.33,421.03 406,420.4C408.67,419.76 411.33,419.13 414,418.49C416.67,417.86 419.33,417.22 422,416.59C424.67,415.96 427.33,415.33 430,414.7C432.67,414.07 435.33,413.44 438,412.82C440.67,412.2 443.33,411.58 446,410.97C448.67,410.36 451.33,409.75 454,409.15C456.67,408.55 459.33,407.96 462,407.37C464.67,406.79 467.33,406.21 470,405.64C472.67,405.08 475.33,404.52 478,403.97C480.67,403.42 483.33,402.89 486,402.36C488.67,401.84 491.87,401.24 494,400.83C496.13,400.43 498,400.11 498.8,399.96" fill="none" stroke="#ee8a18" stroke-width="2.5" stroke-linecap="square"/>
<path d="M86,489.6C87.33,489 91.15,487.13 94,486C96.85,484.87 99.67,483.88 103.1,482.8C106.53,481.72 110.75,480.52 114.6,479.5C118.45,478.48 122.35,477.57 126.2,476.7C130.05,475.83 133.87,475.05 137.7,474.3C141.53,473.55 143.43,473.1 149.2,472.2C154.97,471.3 165.5,469.87 172.3,468.9C179.1,467.93 185.72,466.97 190,466.36C194.28,465.74 195.33,465.59 198,465.22C200.67,464.85 203.33,464.48 206,464.13C208.67,463.77 211.33,463.42 214,463.07C216.67,462.73 219.33,462.39 222,462.06C224.67,461.72 227.33,461.39 230,461.06C232.67,460.74 235.33,460.41 238,460.09C240.67,459.77 243.33,459.45 246,459.14C248.67,458.82 251.33,458.51 254,458.19C256.67,457.88 259.33,457.57 262,457.26C264.67,456.95 267.33,456.64 270,456.33C272.67,456.02 275.33,455.71 278,455.39C280.67,455.08 283.33,454.77 286,454.46C288.67,454.15 291.33,453.83 294,453.52C296.67,453.21 299.33,452.89 302,452.57C304.67,452.26 307.33,451.94 310,451.62C312.67,451.3 315.33,450.97 318,450.65C320.67,450.32 323.33,450 326,449.67C328.67,449.34 331.33,449.01 334,448.68C336.67,448.35 339.33,448.01 342,447.68C344.67,447.34 347.33,447 350,446.66C352.67,446.32 355.33,445.98 358,445.64C360.67,445.29 363.33,444.95 366,444.6C368.67,444.26 371.33,443.91 374,443.56C376.67,443.21 379.33,442.86 382,442.51C384.67,442.16 387.33,441.81 390,441.46C392.67,441.11 395.33,440.76 398,440.4C400.67,440.05 403.33,439.7 406,439.35C408.67,439.01 411.33,438.66 414,438.31C416.67,437.96 419.33,437.62 422,437.28C424.67,436.94 427.33,436.59 430,436.26C432.67,435.92 435.33,435.59 438,435.26C440.67,434.93 443.33,434.61 446,434.29C448.67,433.97 451.33,433.65 454,433.35C456.67,433.04 459.33,432.74 462,432.44C464.67,432.15 467.33,431.86 470,431.59C472.67,431.31 475.33,431.04 478,430.78C480.67,430.52 483.33,430.27 486,430.03C488.67,429.79 491.87,429.52 494,429.35C496.13,429.17 498,429.04 498.8,428.97" fill="none" stroke="#30045f" stroke-width="2.4" stroke-dasharray="15.2 10.4" stroke-dashoffset="23.76"/>
<path d="M217.4,473.5 L412.7,451.2" fill="none" stroke="#000" stroke-width="1.45" stroke-dasharray="8 1.6 1.2 1.6" stroke-dashoffset="1.35"/>
</g>
<g clip-path="url(#cb)">
<path d="M86,513.82C87,513.99 90,514.48 92,514.82C94,515.15 96,515.49 98,515.82C100,516.16 102,516.49 104,516.83C106,517.17 108,517.51 110,517.85C112,518.19 114,518.53 116,518.87C118,519.21 120,519.55 122,519.89C124,520.23 126,520.57 128,520.91C130,521.25 132,521.59 134,521.94C136,522.28 138,522.62 140,522.96C142,523.3 144,523.64 146,523.98C148,524.32 150,524.66 152,525C154,525.34 156,525.68 158,526.02C160,526.36 162,526.7 164,527.04C166,527.37 168,527.71 170,528.05C172,528.39 174,528.72 176,529.06C178,529.39 180,529.73 182,530.06C184,530.39 186,530.73 188,531.06C190,531.39 192,531.72 194,532.05C196,532.38 198,532.71 200,533.04C202,533.37 204,533.69 206,534.02C208,534.35 210,534.67 212,535C214,535.32 216,535.65 218,535.97C220,536.29 222,536.62 224,536.94C226,537.26 228,537.58 230,537.9C232,538.22 234,538.54 236,538.86C238,539.18 240,539.5 242,539.81C244,540.13 246,540.45 248,540.76C250,541.08 252,541.4 254,541.71C256,542.03 258,542.34 260,542.66C262,542.97 264,543.29 266,543.6C268,543.92 270,544.23 272,544.55C274,544.86 276,545.18 278,545.49C280,545.81 282,546.12 284,546.44C286,546.75 288,547.07 290,547.38C292,547.7 294,548.02 296,548.33C298,548.65 300,548.97 302,549.29C304,549.61 306,549.93 308,550.25C310,550.57 312,550.89 314,551.22C316,551.54 318,551.87 320,552.19C322,552.52 324,552.85 326,553.18C328,553.51 330,553.84 332,554.18C334,554.51 336,554.85 338,555.19C340,555.53 342,555.87 344,556.21C346,556.56 348,556.91 350,557.26C352,557.61 354,557.96 356,558.32C358,558.68 360,559.04 362,559.4C364,559.77 366,560.13 368,560.51C370,560.88 372,561.26 374,561.64C376,562.02 378,562.4 380,562.79C382,563.18 384,563.58 386,563.98C388,564.38 390,564.79 392,565.2C394,565.61 396,566.03 398,566.45C400,566.87 402,567.3 404,567.74C406,568.17 408,568.62 410,569.07C412,569.52 414,569.97 416,570.44C418,570.9 420,571.37 422,571.85C424,572.33 426,572.82 428,573.31C430,573.81 432,574.31 434,574.83C436,575.34 438,575.86 440,576.39C442,576.92 444,577.46 446,578.01C448,578.56 450,579.12 452,579.7C454,580.27 456,580.85 458,581.44C460,582.03 462,582.64 464,583.25C466,583.87 468,584.49 470,585.13C472,585.77 474,586.42 476,587.08C478,587.75 480,588.42 482,589.11C484,589.8 486,590.51 488,591.22C490,591.94 492.13,592.72 494,593.42C495.87,594.11 498.33,595.06 499.2,595.39" fill="none" stroke="#ee8a18" stroke-width="2.5" stroke-linecap="square"/>
<path d="M86,513.86C87,514.04 90,514.56 92,514.91C94,515.26 96,515.61 98,515.96C100,516.3 102,516.65 104,516.99C106,517.33 108,517.68 110,518.02C112,518.36 114,518.7 116,519.04C118,519.38 120,519.71 122,520.05C124,520.39 126,520.72 128,521.06C130,521.39 132,521.72 134,522.05C136,522.39 138,522.72 140,523.04C142,523.37 144,523.7 146,524.03C148,524.35 150,524.68 152,525C154,525.33 156,525.65 158,525.97C160,526.29 162,526.61 164,526.93C166,527.25 168,527.57 170,527.89C172,528.2 174,528.52 176,528.83C178,529.15 180,529.46 182,529.77C184,530.09 186,530.4 188,530.71C190,531.02 192,531.32 194,531.63C196,531.94 198,532.25 200,532.55C202,532.85 204,533.16 206,533.46C208,533.76 210,534.06 212,534.36C214,534.66 216,534.96 218,535.26C220,535.56 222,535.85 224,536.15C226,536.45 228,536.74 230,537.03C232,537.33 234,537.62 236,537.91C238,538.2 240,538.49 242,538.78C244,539.06 246,539.35 248,539.64C250,539.92 252,540.21 254,540.49C256,540.77 258,541.06 260,541.34C262,541.62 264,541.9 266,542.18C268,542.46 270,542.73 272,543.01C274,543.29 276,543.56 278,543.84C280,544.11 282,544.38 284,544.65C286,544.93 288,545.2 290,545.47C292,545.73 294,546 296,546.27C298,546.54 300,546.8 302,547.07C304,547.33 306,547.6 308,547.86C310,548.12 312,548.38 314,548.64C316,548.9 318,549.16 320,549.42C322,549.68 324,549.93 326,550.19C328,550.45 330,550.7 332,550.95C334,551.21 336,551.46 338,551.71C340,551.96 342,552.21 344,552.46C346,552.71 348,552.96 350,553.2C352,553.45 354,553.69 356,553.94C358,554.18 360,554.42 362,554.67C364,554.91 366,555.15 368,555.39C370,555.63 372,555.87 374,556.1C376,556.34 378,556.58 380,556.81C382,557.05 384,557.28 386,557.51C388,557.75 390,557.98 392,558.21C394,558.44 396,558.67 398,558.9C400,559.13 402,559.35 404,559.58C406,559.81 408,560.03 410,560.25C412,560.48 414,560.7 416,560.92C418,561.14 420,561.37 422,561.58C424,561.8 426,562.02 428,562.24C430,562.46 432,562.67 434,562.89C436,563.1 438,563.32 440,563.53C442,563.74 444,563.95 446,564.16C448,564.38 450,564.59 452,564.79C454,565 456,565.21 458,565.42C460,565.62 462,565.83 464,566.03C466,566.23 468,566.44 470,566.64C472,566.84 474,567.04 476,567.24C478,567.44 480,567.64 482,567.84C484,568.04 486,568.23 488,568.43C490,568.62 492.2,568.84 494,569.01C495.8,569.18 498,569.39 498.8,569.47" fill="none" stroke="#30045f" stroke-width="2.4" stroke-dasharray="15.2 10.4" stroke-dashoffset="23.45"/>
</g>
<rect x="393.1" y="512.4" width="118.9" height="45.8" rx="2.8" fill="#fff" fill-opacity="0.8" stroke="#cccccc" stroke-width="1.1"/>
<line x1="398.8" y1="523.7" x2="428.3" y2="523.7" stroke="#ee8a18" stroke-width="2.6"/>
<line x1="398.8" y1="544.8" x2="428.3" y2="544.8" stroke="#30045f" stroke-width="2.5" stroke-dasharray="15.0 10.6"/>
<text x="440" y="528.8" text-anchor="start" font-size="14">nonlinear</text>
<text x="440" y="549.9" text-anchor="start" font-size="14">linear</text>
<rect x="65.5" y="395.1" width="452.8" height="99.6" fill="none" stroke="#000" stroke-width="1.3"/>
<rect x="65.5" y="505.2" width="452.8" height="99.3" fill="none" stroke="#000" stroke-width="1.3"/>
<line x1="86" y1="494.7" x2="86" y2="499.6" stroke="#000" stroke-width="1.1"/>
<line x1="86" y1="604.5" x2="86" y2="609.4" stroke="#000" stroke-width="1.1"/>
<text x="86" y="625.3" text-anchor="middle" font-size="14">0</text>
<line x1="180.35" y1="494.7" x2="180.35" y2="499.6" stroke="#000" stroke-width="1.1"/>
<line x1="180.35" y1="604.5" x2="180.35" y2="609.4" stroke="#000" stroke-width="1.1"/>
<text x="180.35" y="625.3" text-anchor="middle" font-size="14">10</text>
<line x1="274.7" y1="494.7" x2="274.7" y2="499.6" stroke="#000" stroke-width="1.1"/>
<line x1="274.7" y1="604.5" x2="274.7" y2="609.4" stroke="#000" stroke-width="1.1"/>
<text x="274.7" y="625.3" text-anchor="middle" font-size="14">20</text>
<line x1="369.05" y1="494.7" x2="369.05" y2="499.6" stroke="#000" stroke-width="1.1"/>
<line x1="369.05" y1="604.5" x2="369.05" y2="609.4" stroke="#000" stroke-width="1.1"/>
<text x="369.05" y="625.3" text-anchor="middle" font-size="14">30</text>
<line x1="463.4" y1="494.7" x2="463.4" y2="499.6" stroke="#000" stroke-width="1.1"/>
<line x1="463.4" y1="604.5" x2="463.4" y2="609.4" stroke="#000" stroke-width="1.1"/>
<text x="463.4" y="625.3" text-anchor="middle" font-size="14">40</text>
<text x="291.9" y="644.2" text-anchor="middle" font-size="14">t [ms]</text>
<line x1="60.6" y1="481.5" x2="65.5" y2="481.5" stroke="#000" stroke-width="1.1"/>
<text x="54.7" y="486.2" text-anchor="end" font-size="14">10<tspan dx="1.3" dy="-5.6" font-size="8.8">0</tspan></text>
<line x1="60.6" y1="450.65" x2="65.5" y2="450.65" stroke="#000" stroke-width="1.1"/>
<text x="54.7" y="455.35" text-anchor="end" font-size="14">10<tspan dx="1.3" dy="-5.6" font-size="8.8">1</tspan></text>
<line x1="60.6" y1="419.8" x2="65.5" y2="419.8" stroke="#000" stroke-width="1.1"/>
<text x="54.7" y="424.5" text-anchor="end" font-size="14">10<tspan dx="1.3" dy="-5.6" font-size="8.8">2</tspan></text>
<line x1="62.7" y1="493.78" x2="65.5" y2="493.78" stroke="#000" stroke-width="0.8"/>
<line x1="62.7" y1="490.79" x2="65.5" y2="490.79" stroke="#000" stroke-width="0.8"/>
<line x1="62.7" y1="488.34" x2="65.5" y2="488.34" stroke="#000" stroke-width="0.8"/>
<line x1="62.7" y1="486.28" x2="65.5" y2="486.28" stroke="#000" stroke-width="0.8"/>
<line x1="62.7" y1="484.49" x2="65.5" y2="484.49" stroke="#000" stroke-width="0.8"/>
<line x1="62.7" y1="482.91" x2="65.5" y2="482.91" stroke="#000" stroke-width="0.8"/>
<line x1="62.7" y1="472.21" x2="65.5" y2="472.21" stroke="#000" stroke-width="0.8"/>
<line x1="62.7" y1="466.78" x2="65.5" y2="466.78" stroke="#000" stroke-width="0.8"/>
<line x1="62.7" y1="462.93" x2="65.5" y2="462.93" stroke="#000" stroke-width="0.8"/>
<line x1="62.7" y1="459.94" x2="65.5" y2="459.94" stroke="#000" stroke-width="0.8"/>
<line x1="62.7" y1="457.49" x2="65.5" y2="457.49" stroke="#000" stroke-width="0.8"/>
<line x1="62.7" y1="455.43" x2="65.5" y2="455.43" stroke="#000" stroke-width="0.8"/>
<line x1="62.7" y1="453.64" x2="65.5" y2="453.64" stroke="#000" stroke-width="0.8"/>
<line x1="62.7" y1="452.06" x2="65.5" y2="452.06" stroke="#000" stroke-width="0.8"/>
<line x1="62.7" y1="441.36" x2="65.5" y2="441.36" stroke="#000" stroke-width="0.8"/>
<line x1="62.7" y1="435.93" x2="65.5" y2="435.93" stroke="#000" stroke-width="0.8"/>
<line x1="62.7" y1="432.08" x2="65.5" y2="432.08" stroke="#000" stroke-width="0.8"/>
<line x1="62.7" y1="429.09" x2="65.5" y2="429.09" stroke="#000" stroke-width="0.8"/>
<line x1="62.7" y1="426.64" x2="65.5" y2="426.64" stroke="#000" stroke-width="0.8"/>
<line x1="62.7" y1="424.58" x2="65.5" y2="424.58" stroke="#000" stroke-width="0.8"/>
<line x1="62.7" y1="422.79" x2="65.5" y2="422.79" stroke="#000" stroke-width="0.8"/>
<line x1="62.7" y1="421.21" x2="65.5" y2="421.21" stroke="#000" stroke-width="0.8"/>
<line x1="62.7" y1="410.51" x2="65.5" y2="410.51" stroke="#000" stroke-width="0.8"/>
<line x1="62.7" y1="405.08" x2="65.5" y2="405.08" stroke="#000" stroke-width="0.8"/>
<line x1="62.7" y1="401.23" x2="65.5" y2="401.23" stroke="#000" stroke-width="0.8"/>
<line x1="62.7" y1="398.24" x2="65.5" y2="398.24" stroke="#000" stroke-width="0.8"/>
<line x1="62.7" y1="395.79" x2="65.5" y2="395.79" stroke="#000" stroke-width="0.8"/>
<line x1="60.6" y1="563.25" x2="65.5" y2="563.25" stroke="#000" stroke-width="1.1"/>
<text x="55.6" y="568.35" text-anchor="end" font-size="14">0.5</text>
<line x1="60.6" y1="521.9" x2="65.5" y2="521.9" stroke="#000" stroke-width="1.1"/>
<text x="55.6" y="527" text-anchor="end" font-size="14">0.6</text>
<text transform="translate(20.7,445.5) rotate(-90)" text-anchor="middle" font-size="14"><tspan font-style="italic">Z</tspan><tspan font-style="italic" font-size="9.8" dy="2.5">O</tspan><tspan dy="-2.5"> [mm]</tspan></text>
<text transform="translate(20.7,555.5) rotate(-90)" text-anchor="middle" font-size="14"><tspan font-style="italic">I</tspan><tspan font-style="italic" font-size="9.8" dy="2.5">p</tspan><tspan dy="-2.5"> [MA]</tspan></text>
</svg>
</body></html>
